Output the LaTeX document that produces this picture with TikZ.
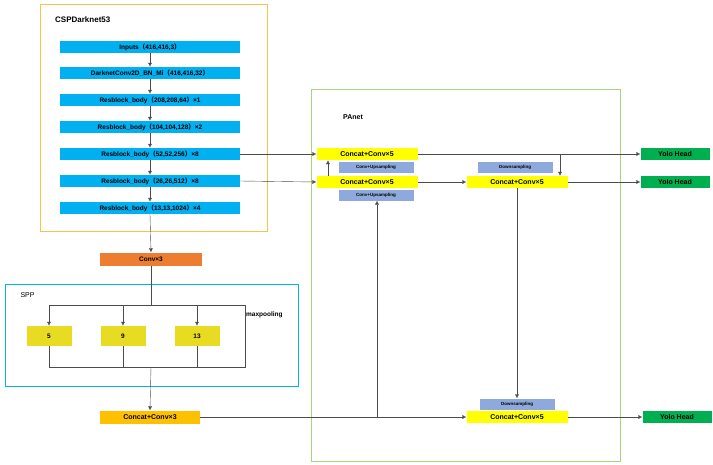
\documentclass[tikz,border=0pt]{standalone}
\usepackage{fontspec}
\setmainfont{Liberation Sans}
\newfontfamily\cjk{Noto Sans CJK SC}
\usetikzlibrary{positioning, arrows.meta}
\definecolor{cspblue}{HTML}{00B0F0}
\definecolor{convorange}{HTML}{ED7D31}
\definecolor{catorange}{HTML}{FFC000}
\definecolor{sppyellow}{HTML}{E8DC22}
\definecolor{panyellow}{HTML}{FFFF00}
\definecolor{samplav}{HTML}{8EA9DB}
\definecolor{headgreen}{HTML}{00B050}
\definecolor{frameorange}{HTML}{F8C34A}
\definecolor{framegreen}{HTML}{A9D47E}
\newcommand{\lp}{{\cjk （}}
\newcommand{\rp}{{\cjk ）}}
\tikzset{
  blk/.style={inner sep=0pt, font=\bfseries\fontsize{6.5}{7}\selectfont},
  res/.style={blk, fill=cspblue, minimum width=180pt, minimum height=12pt},
  cat/.style={blk, fill=panyellow, minimum width=101pt, minimum height=12pt, font=\bfseries\fontsize{7}{8}\selectfont},
  samp/.style={blk, fill=samplav, minimum width=75pt, minimum height=11pt, font=\bfseries\fontsize{4.5}{5}\selectfont},
  head/.style={blk, fill=headgreen, minimum width=69pt, minimum height=12pt, font=\bfseries\fontsize{7}{8}\selectfont},
  pool/.style={blk, fill=sppyellow, minimum width=45pt, minimum height=20pt},
  link/.style={draw=black!70, -{Latex[length=4pt,width=4pt]}},
  wire/.style={draw=black!70}
}
\begin{document}
\begin{tikzpicture}[x=1pt, y=-1pt]
	\useasboundingbox (0,0) rectangle (713,464);
	% frames
	\draw[frameorange, thick] (40,4) rectangle (267,231);
	\draw[cspblue, thick] (5,284) rectangle (298,386);
	\draw[framegreen, thick] (311,89) rectangle (620,461);
	\node[blk, anchor=west, font=\bfseries\fontsize{8}{9}\selectfont] (cspt) at (55,20) {CSPDarknet53};
	\node[anchor=west, font=\fontsize{7}{8}\selectfont] (sppt) at (17,295) {SPP};
	\node[blk, anchor=west] (maxp) at (246,315) {maxpooling};
	\node[blk, anchor=west, font=\bfseries\fontsize{7}{8}\selectfont] (pant) at (343,117) {PAnet};

	% backbone
	\node[res] (r0) at (150,47)  {Inputs\lp416,416,3\rp};
	\node[res] (r1) at (150,73)  {DarknetConv2D\_BN\_Mi\lp416,416,32\rp};
	\node[res] (r2) at (150,100) {Resblock\_body\lp208,208,64\rp ×1};
	\node[res] (r3) at (150,127) {Resblock\_body\lp104,104,128\rp ×2};
	\node[res] (r4) at (150,154) {Resblock\_body\lp52,52,256\rp ×8};
	\node[res] (r5) at (150,181) {Resblock\_body\lp26,26,512\rp ×8};
	\node[res] (r6) at (150,208) {Resblock\_body\lp13,13,1024\rp ×4};
	\foreach \a/\b in {r0/r1, r1/r2, r2/r3, r3/r4, r4/r5, r5/r6}
		\draw[link] (\a) -- (\b);

	\node[blk, fill=convorange, minimum width=102pt, minimum height=13pt] (conv) at (151,259) {Conv×3};
	\draw[link] (r6.south) -- (conv.north);

	% SPP
	\node[pool] (p5)  at (49,336)  {5};
	\node[pool] (p9)  at (123,336) {9};
	\node[pool] (p13) at (197,336) {13};
	\coordinate (top) at (151,305);
	\coordinate (bot) at (151,367);
	\draw[wire] (conv.south) -- (top);
	\draw[wire] (p5.north |- top) -- (245,305) -- (245,367) -- (p5.south |- bot);
	\foreach \p in {p5, p9, p13} {
		\draw[link] (\p.north |- top) -- (\p.north);
		\draw[wire] (\p.south) -- (\p.south |- bot);
	}
	\node[blk, fill=catorange, minimum width=100pt, minimum height=13pt, font=\bfseries\fontsize{7}{8}\selectfont] (cat0) at (150,417) {Concat+Conv×3};
	\draw[link] (bot) -- (cat0.north);

	% PAnet
	\node[cat] (c1) at (367,154) {Concat+Conv×5};
	\node[samp] (u1) at (376,167) {Conv+Upsampling};
	\node[cat] (c2) at (367,182) {Concat+Conv×5};
	\node[samp] (u2) at (376,195) {Conv+Upsampling};
	\node[cat] (c3) at (517,182) {Concat+Conv×5};
	\node[samp] (d1) at (515,167) {Downsampling};
	\node[cat] (c4) at (517,417) {Concat+Conv×5};
	\node[samp] (d2) at (517,404) {Downsampling};
	\node[head] (h1) at (675,154) {Yolo Head};
	\node[head] (h2) at (675,182) {Yolo Head};
	\node[head] (h3) at (677,417) {Yolo Head};
	\coordinate (j1) at (377,417);
	\coordinate (j2) at (560,154);

	\draw[link] (r4.east) -- (c1.west);
	\draw[link] (r5.east) -- (c2.west);
	\draw[link] (c2.north -| 328,0) -- (c1.south -| 328,0);
	\draw[link] (c1.east) -- (h1.west);
	\draw[link] (j2) -- (j2 |- c3.north);
	\draw[link] (c2.east) -- (c3.west);
	\draw[link] (c3.east) -- (h2.west);
	\draw[link] (c3.south) -- (d2.north);
	\draw[link] (cat0.east) -- (c4.west);
	\draw[link] (j1) -- (j1 |- u2.south);
	\draw[link] (c4.east) -- (h3.west);
\end{tikzpicture}
\end{document}
